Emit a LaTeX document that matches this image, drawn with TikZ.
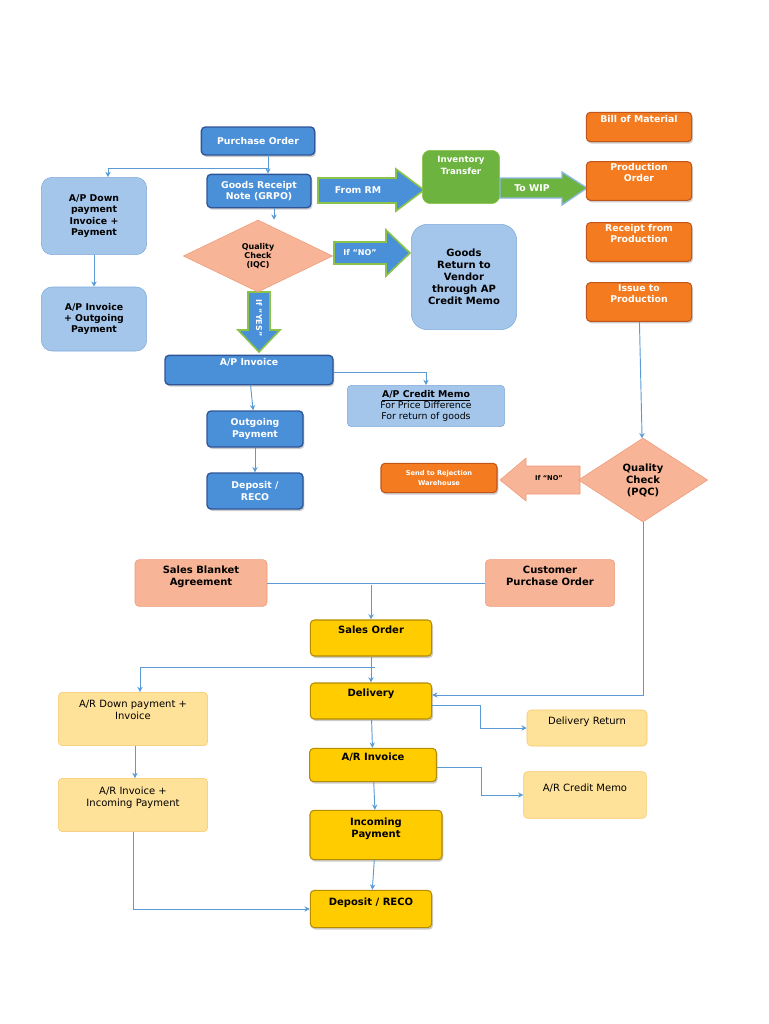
\documentclass[tikz,border=0pt]{standalone}
\usepackage{fontspec}
\setmainfont{DejaVu Sans}
\usetikzlibrary{shapes.geometric,shadows,arrows.meta}
\definecolor{bfill}{HTML}{4A90D9}
\definecolor{bdraw}{HTML}{2F5597}
\definecolor{lbfill}{HTML}{A4C6EA}
\definecolor{lbdraw}{HTML}{7FA9D9}
\definecolor{ofill}{HTML}{F47B20}
\definecolor{odraw}{HTML}{C0561A}
\definecolor{sfill}{HTML}{F7B496}
\definecolor{sdraw}{HTML}{EE9A78}
\definecolor{yfill}{HTML}{FFCC00}
\definecolor{ydraw}{HTML}{B58B00}
\definecolor{lyfill}{HTML}{FFE29A}
\definecolor{lydraw}{HTML}{F5C76A}
\definecolor{gfill}{HTML}{6DB33F}
\definecolor{gline}{HTML}{8BC34A}
\definecolor{lnk}{HTML}{5B9BD5}
\tikzset{
 box/.style={rectangle,rounded corners=3pt,align=center,inner sep=1pt,font=\fontsize{7}{8.5}\selectfont\bfseries},
 blue/.style={box,fill=bfill,draw=bdraw,line width=1pt,text=white,drop shadow={opacity=0.4,shadow xshift=1pt,shadow yshift=-1.5pt}},
 lblue/.style={box,fill=lbfill,draw=lbdraw,rounded corners=8pt},
 orange/.style={box,fill=ofill,draw=odraw,line width=0.8pt,text=white,drop shadow={opacity=0.4,shadow xshift=1pt,shadow yshift=-1.5pt}},
 salmon/.style={box,fill=sfill,draw=sdraw,font=\fontsize{7.5}{9}\selectfont\bfseries},
 yellow/.style={box,fill=yfill,draw=ydraw,line width=0.8pt,font=\fontsize{7.5}{9}\selectfont\bfseries,drop shadow={opacity=0.4,shadow xshift=1pt,shadow yshift=-1.5pt}},
 lyellow/.style={box,fill=lyfill,draw=lydraw,font=\fontsize{7.5}{9}\selectfont},
 dia/.style={diamond,fill=sfill,draw=sdraw,aspect=2,inner sep=0pt,align=center,font=\fontsize{6}{7}\selectfont\bfseries},
 lk/.style={draw=lnk,line width=0.7pt,-{Stealth[length=4pt,width=4pt]}},
 ln/.style={draw=lnk,line width=0.7pt},
 barrow/.style={fill=bfill,draw=gline,line width=1.2pt},
}
\begin{document}
\begin{tikzpicture}[x=0.75pt,y=-0.75pt]
\useasboundingbox (0,0) rectangle (768,1024);
% block arrows
\draw[barrow] (318,178)--(396,178)--(396,169)--(424,190)--(396,211)--(396,203)--(318,203)--cycle;
\node[font=\fontsize{7}{8}\selectfont\bfseries,text=white] (frm) at (358,190) {From RM};
\draw[fill=gfill,draw=lnk!70,line width=1pt] (500,178)--(562,178)--(562,172)--(587,188)--(562,205)--(562,198)--(500,198)--cycle;
\node[font=\fontsize{7}{8}\selectfont\bfseries,text=white] (twip) at (532,188) {To WIP};
\draw[barrow] (334,242)--(386,242)--(386,230)--(410,253)--(386,276)--(386,264)--(334,264)--cycle;
\node[font=\fontsize{6}{7}\selectfont\bfseries,text=white] (ino) at (360,253) {If “NO”};
\draw[barrow] (248,292)--(270,292)--(270,330)--(280,330)--(259,352)--(238,330)--(248,330)--cycle;
\node[font=\fontsize{6}{7}\selectfont\bfseries,text=white,rotate=-90] (iyes) at (259,318) {If “YES”};
\draw[fill=sfill,draw=sdraw] (580,466)--(526,466)--(526,458)--(500,480)--(526,501)--(526,494)--(580,494)--cycle;
\node[font=\fontsize{5}{6}\selectfont\bfseries] (pno) at (549,478) {If “NO”};
% nodes
\node[blue,minimum width=114\pgflinewidth] (po) at (258,141) [minimum width=85pt,minimum height=21pt] {Purchase Order};
\node[blue,minimum width=78pt,minimum height=25pt] (grpo) at (259,191) {Goods Receipt\\Note (GRPO)};
\node[lblue,minimum width=79pt,minimum height=58pt] (apd) at (94,216) {A/P Down\\payment\\Invoice +\\Payment};
\node[lblue,minimum width=79pt,minimum height=48pt] (api2) at (94,319) {A/P Invoice\\+ Outgoing\\Payment};
\node[dia,minimum width=112pt,minimum height=54pt] (iqc) at (258,256) {Quality\\Check\\(IQC)};
\node[box,fill=gfill,draw=gline,text=white,rounded corners=6pt,minimum width=58pt,minimum height=40pt,anchor=north,font=\fontsize{6.5}{9}\selectfont\bfseries] (inv) at (461,150) {Inventory\\Transfer\\[8pt]};
\node[orange,minimum width=79pt,minimum height=22pt] (bom) at (639,127) {Bill of Material\\[3pt]};
\node[orange,minimum width=79pt,minimum height=29pt] (pro) at (639,181) {Production\\Order\\[4pt]};
\node[orange,minimum width=79pt,minimum height=29pt] (rfp) at (639,242) {Receipt from\\Production\\[4pt]};
\node[orange,minimum width=79pt,minimum height=29pt] (itp) at (639,302) {Issue to\\Production\\[4pt]};
\node[lblue,minimum width=79pt,minimum height=79pt,font=\fontsize{7.5}{9}\selectfont\bfseries,rounded corners=12pt] (grv) at (464,277) {Goods\\Return to\\Vendor\\through AP\\Credit Memo};
\node[blue,minimum width=126pt,minimum height=22pt] (api) at (249,370) {A/P Invoice\\[3pt]};
\node[box,fill=lbfill,draw=lbdraw,minimum width=118pt,minimum height=31pt,font=\fontsize{7}{8.5}\selectfont] (apcm) at (426,406) {\textbf{\underline{A/P Credit Memo}}\\For Price Difference\\For return of goods};
\node[blue,minimum width=72pt,minimum height=27pt] (op) at (255,429) {Outgoing\\Payment};
\node[blue,minimum width=72pt,minimum height=27pt] (dep1) at (255,491) {Deposit /\\RECO};
\node[dia,minimum width=97pt,minimum height=63pt,font=\fontsize{7.5}{9}\selectfont\bfseries] (pqc) at (643,480) {Quality\\Check\\(PQC)};
\node[orange,minimum width=87pt,minimum height=22pt,font=\fontsize{5}{8}\selectfont\bfseries] (rej) at (439,478) {Send to Rejection\\Warehouse};
\node[salmon,minimum width=99pt,minimum height=35pt] (sba) at (201,583) {Sales Blanket\\Agreement\\[2pt]};
\node[salmon,minimum width=97pt,minimum height=35pt] (cpo) at (550,583) {Customer\\Purchase Order\\[2pt]};
\node[yellow,minimum width=91pt,minimum height=27pt] (so) at (371,638) {Sales Order\\[3pt]};
\node[yellow,minimum width=91pt,minimum height=27pt] (del) at (371,701) {Delivery\\[3pt]};
\node[yellow,minimum width=95pt,minimum height=25pt] (ari) at (373,765) {A/R Invoice\\[3pt]};
\node[yellow,minimum width=99pt,minimum height=37pt] (inc) at (376,835) {Incoming\\Payment\\[2pt]};
\node[yellow,minimum width=91pt,minimum height=28pt] (dep2) at (371,909) {Deposit / RECO\\[2pt]};
\node[lyellow,minimum width=112pt,minimum height=40pt] (ard) at (133,719) {A/R Down payment +\\Invoice\\[4pt]};
\node[lyellow,minimum width=112pt,minimum height=40pt] (arii) at (133,805) {A/R Invoice +\\Incoming Payment\\[4pt]};
\node[lyellow,minimum width=90pt,minimum height=27pt] (dr) at (587,728) {Delivery Return\\[2pt]};
\node[lyellow,minimum width=92pt,minimum height=35pt] (arcm) at (585,795) {A/R Credit Memo\\[2pt]};
% connectors
\coordinate (j1) at (268,168);
\draw[lk] (268,155) -- (grpo.north -| j1);
\draw[lk] (j1) -| (apd.north -| 108,0);
\draw[lk] (apd) -- (api2);
\draw[lk] (grpo.south -| 274,0) -- (iqc.north -| 274,0);
\draw[lk] (api) -- (op);
\draw[lk] (op) -- (dep1);
\draw[lk] (api.east |- 0,372) -| (apcm.north);
\draw[lk] (itp) -- (pqc);
\draw[lk] (pqc.south) |- (del.east |- 0,695);
\draw[ln] (sba) -- (cpo);
\draw[lk] (371,585) -- (so);
\draw[lk] (so) -- (del);
\draw[lk] (375,667) -| (ard.north -| 140,0);
\draw[lk] (del) -- (ari);
\draw[lk] (ari) -- (inc);
\draw[lk] (inc) -- (dep2);
\draw[lk] (del.east |- 0,705) -| (480,728) -- (dr.west);
\draw[lk] (ari.east |- 0,767) -| (481,795) -- (arcm.west);
\draw[lk] (ard.south -| 135,0) -- (arii.north -| 135,0);
\draw[lk] (arii.south) |- (dep2.west);
\end{tikzpicture}
\end{document}
